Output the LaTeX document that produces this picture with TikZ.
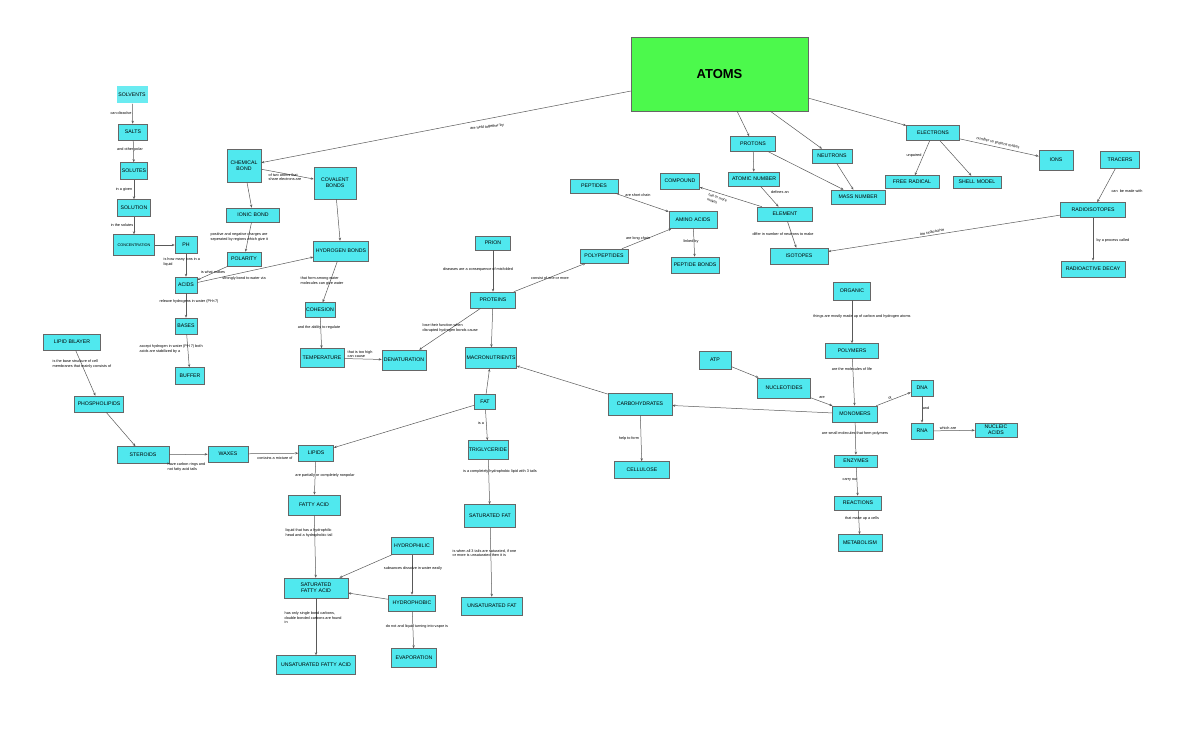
\documentclass[tikz,border=0pt]{standalone}
\usepackage{fontspec}
\setmainfont{Liberation Sans}
\usetikzlibrary{arrows.meta}
\definecolor{cy}{HTML}{50E8EE}
\definecolor{gr}{HTML}{4CF94C}
\tikzset{
 box/.style={draw=gray!80!black,fill=cy,line width=0.5pt,inner sep=0.5pt,font=\fontsize{5.2}{6}\selectfont,align=center},
 lbl/.style={font=\fontsize{3.8}{4.4}\selectfont,inner sep=0.5pt,align=left},
 ar/.style={draw=gray!70!black,line width=0.5pt,-{Stealth[length=3pt,width=2.4pt]}}
}
\newcommand\bx[6]{\node[box,minimum width=#4pt,minimum height=#5pt,text width=#4pt-2pt] (#1) at (#2,#3) {#6};}
\begin{document}
\begin{tikzpicture}[x=1pt,y=-1pt]
\useasboundingbox (0,0) rectangle (1200,733);
\node[box,fill=gr,minimum width=177pt,minimum height=74pt,font=\fontsize{13}{15}\selectfont\bfseries] (atoms) at (719.5,74) {ATOMS};
\node[box,draw=none,fill=cy!85,minimum width=31pt,minimum height=17pt,text width=29pt] (solv) at (132,95) {SOLVENTS};
\bx{salts}{133}{132}{29}{16}{SALTS}
\bx{solutes}{134}{171}{27}{17}{SOLUTES}
\bx{solution}{134}{208}{33}{17}{SOLUTION}
\node[box,minimum width=41pt,minimum height=21pt,font=\fontsize{3.8}{4.4}\selectfont] (conc) at (134,245) {CONCENTRATION};
\bx{ph}{186}{245}{22}{17}{PH}
\bx{acids}{186}{285}{22}{16}{ACIDS}
\bx{bases}{186}{326}{22}{16}{BASES}
\bx{buffer}{190}{376}{29}{17}{BUFFER}
\bx{chem}{244}{166}{34}{33}{CHEMICAL BOND}
\bx{ionic}{253}{215}{53}{14}{IONIC BOND}
\bx{polar}{244}{259}{34}{14}{POLARITY}
\bx{cov}{335}{183}{42}{32}{COVALENT BONDS}
\bx{hyd}{341}{251}{55}{20}{HYDROGEN BONDS}
\bx{coh}{320}{310}{30}{15}{COHESION}
\bx{temp}{322}{358}{44}{19}{TEMPERATURE}
\bx{denat}{404}{360}{44}{20}{DENATURATION}
\bx{bil}{72}{342}{57}{16}{LIPID BILAYER}
\bx{phos}{99}{404}{49}{16}{PHOSPHOLIPIDS}
\bx{ster}{143}{455}{52}{17}{STEROIDS}
\bx{wax}{228}{454}{40}{16}{WAXES}
\bx{lipids}{316}{453}{35}{16}{LIPIDS}
\bx{fatty}{314}{505}{52}{20}{FATTY ACID}
\bx{sfa}{316}{588}{64}{20}{SATURATED FATTY ACID}
\bx{ufa}{316}{665}{79}{19}{UNSATURATED FATTY ACID}
\bx{phil}{412}{546}{42}{17}{HYDROPHILIC}
\bx{phob}{412}{603}{47}{16}{HYDROPHOBIC}
\bx{evap}{414}{658}{45}{19}{EVAPORATION}
\bx{prion}{493}{243}{35}{14}{PRION}
\bx{prot}{493}{300}{45}{16}{PROTEINS}
\bx{macro}{491}{358}{51}{21}{MACRONUTRIENTS}
\bx{fat}{485}{402}{21}{15}{FAT}
\bx{tri}{488}{450}{40}{19}{TRIGLYCERIDE}
\bx{sfat}{490}{516}{51}{23}{SATURATED FAT}
\bx{ufat}{492}{606}{61}{18}{UNSATURATED FAT}
\bx{pep}{594}{186}{48}{14}{PEPTIDES}
\bx{poly}{604}{256}{48}{14}{POLYPEPTIDES}
\bx{amino}{693}{220}{48}{17}{AMINO ACIDS}
\bx{pbond}{695}{265}{48}{16}{PEPTIDE BONDS}
\bx{comp}{680}{181}{39}{16}{COMPOUND}
\bx{atnum}{754}{179}{51}{14}{ATOMIC NUMBER}
\bx{elem}{785}{214}{55}{14}{ELEMENT}
\bx{protons}{753}{144}{45}{15}{PROTONS}
\bx{neut}{832}{156}{40}{14}{NEUTRONS}
\bx{mass}{858}{197}{54}{14}{MASS NUMBER}
\bx{iso}{799}{256}{58}{16}{ISOTOPES}
\bx{elec}{933}{133}{53}{15}{ELECTRONS}
\bx{free}{912}{182}{54}{13}{FREE RADICAL}
\bx{shell}{977}{182}{48}{12}{SHELL MODEL}
\bx{ions}{1056}{160}{34}{20}{IONS}
\bx{trac}{1120}{160}{39}{17}{TRACERS}
\bx{radio}{1093}{210}{65}{15}{RADIOISOTOPES}
\bx{decay}{1093}{269}{64}{16}{RADIOACTIVE DECAY}
\bx{org}{852}{291}{37}{18}{ORGANIC}
\bx{polym}{852}{351}{53}{15}{POLYMERS}
\bx{atp}{715}{360}{32}{18}{ATP}
\bx{nuc}{784}{388}{53}{20}{NUCLEOTIDES}
\bx{mono}{855}{414}{45}{16}{MONOMERS}
\bx{dna}{922}{388}{22}{16}{DNA}
\bx{rna}{922}{431}{22}{16}{RNA}
\bx{nacid}{996}{430}{42}{14}{NUCLEIC ACIDS}
\bx{enz}{856}{461}{43}{12}{ENZYMES}
\bx{react}{858}{503}{47}{14}{REACTIONS}
\bx{metab}{860}{543}{44}{17}{METABOLISM}
\bx{carb}{640}{404}{64}{22}{CARBOHYDRATES}
\bx{cell}{642}{470}{55}{17}{CELLULOSE}
% connectors
\coordinate (aL) at (631,91); \coordinate (aP) at (737,111); \coordinate (aN) at (770,111); \coordinate (aE) at (808,98);
\draw[ar] (aL) -- (chem);
\draw[ar] (aP) -- (protons);
\draw[ar] (aN) -- (neut);
\draw[ar] (aE) -- (elec);
\draw[ar] (solv) -- (salts);
\draw[ar] (salts) -- (solutes);
\draw[ar] (solutes) -- (solution);
\draw[ar] (solution) -- (conc);
\draw[ar] (conc) -- (ph);
\draw[ar] (ph) -- (acids);
\draw[ar] (polar) -- (acids);
\draw[ar] (acids) -- (hyd);
\draw[ar] (acids) -- (bases);
\draw[ar] (bases) -- (buffer);
\draw[ar] (chem) -- (ionic);
\draw[ar] (chem) -- (cov);
\draw[ar] (ionic) -- (polar);
\draw[ar] (cov) -- (hyd);
\draw[ar] (hyd) -- (coh);
\draw[ar] (coh) -- (temp);
\draw[ar] (temp) -- (denat);
\draw[ar] (prion) -- (prot);
\draw[ar] (prot) -- (poly);
\draw[ar] (prot) -- (denat);
\draw[ar] (prot) -- (macro);
\draw[ar] (pep) -- (amino);
\draw[ar] (poly) -- (amino);
\draw[ar] (amino) -- (pbond);
\draw[ar] (elem) -- (comp);
\draw[ar] (atnum) -- (elem);
\draw[ar] (elem) -- (iso);
\draw[ar] (protons) -- (atnum);
\draw[ar] (protons) -- (mass);
\draw[ar] (neut) -- (mass);
\draw[ar] (elec) -- (free);
\draw[ar] (elec) -- (shell);
\draw[ar] (elec) -- (ions);
\draw[ar] (trac) -- (radio);
\draw[ar] (radio) -- (iso);
\draw[ar] (radio) -- (decay);
\draw[ar] (org) -- (polym);
\draw[ar] (polym) -- (mono);
\draw[ar] (atp) -- (nuc);
\draw[ar] (nuc) -- (mono);
\draw[ar] (mono) -- (dna);
\draw[ar] (dna) -- (rna);
\draw[ar] (rna) -- (nacid);
\draw[ar] (mono) -- (carb);
\draw[ar] (mono) -- (enz);
\draw[ar] (enz) -- (react);
\draw[ar] (react) -- (metab);
\draw[ar] (carb) -- (macro);
\draw[ar] (carb) -- (cell);
\draw[ar] (fat) -- (macro);
\draw[ar] (fat) -- (lipids);
\draw[ar] (fat) -- (tri);
\draw[ar] (tri) -- (sfat);
\draw[ar] (sfat) -- (ufat);
\draw[ar] (bil) -- (phos);
\draw[ar] (phos) -- (ster);
\draw[ar] (ster) -- (wax);
\draw[ar] (wax) -- (lipids);
\draw[ar] (lipids) -- (fatty);
\draw[ar] (fatty) -- (sfa);
\draw[ar] (phil) -- (sfa);
\draw[ar] (phil) -- (phob);
\draw[ar] (phob) -- (sfa);
\draw[ar] (sfa) -- (ufa);
\draw[ar] (phob) -- (evap);
% labels
\node[lbl,rotate=6] (l1) at (487,127) {are held together by};
\node[lbl] (l2) at (121,113) {can dissolve};
\node[lbl] (l3) at (130,150) {and other polar};
\node[lbl] (l4) at (124,190) {in a given};
\node[lbl] (l5) at (122,225) {in the solutes};
\node[lbl,anchor=west] (l6) at (163,262) {is how many ions in a\\liquid};
\node[lbl] (l7) at (213,272) {is what makes};
\node[lbl] (l8) at (244,279) {strongly bond to water via};
\node[lbl] (l9) at (189,302) {releave hydrogens in water (PH<7)};
\node[lbl,anchor=west] (l10) at (139,349) {accept hydrogen in water (PH 7) both\\acids are stabilized by a};
\node[lbl,anchor=west] (l11) at (268,177) {of two atoms that\\share electrons are};
\node[lbl,anchor=west] (l12) at (210,237) {positive and negative charges are\\seperated by regions which give it};
\node[lbl,anchor=west] (l13) at (300,281) {that form among water\\molecules can give water};
\node[lbl] (l14) at (319,328) {and the ability to regulate};
\node[lbl,anchor=west] (l15) at (347,354) {that is too high\\can cause};
\node[lbl] (l16) at (478,270) {diseases are a consequence of misfolded};
\node[lbl] (l17) at (550,278) {consist of one or more};
\node[lbl,anchor=west] (l18) at (422,328) {lose their function when\\disrupted hydrogen bonds cause};
\node[lbl] (l19) at (638,195) {are short chain};
\node[lbl] (l20) at (638,239) {are long chain};
\node[lbl] (l21) at (691,242) {linked by};
\node[lbl,rotate=-18,font=\fontsize{3.6}{5}\selectfont] (l22) at (717,200) {two or more\\makes};
\node[lbl] (l23) at (780,192) {defines an};
\node[lbl] (l24) at (783,234) {differ in number of neutrons to make};
\node[lbl] (l25) at (914,156) {unpaired};
\node[lbl,rotate=-12] (l26) at (998,143) {number vs protons makes};
\node[lbl] (l27) at (1127,191) {can\ \ be made with};
\node[lbl,rotate=11] (l28) at (932,232) {are radioactive};
\node[lbl] (l29) at (1113,241) {by a process called};
\node[lbl] (l30) at (862,317) {things are mostly made up of carbon and hydrogen atoms};
\node[lbl] (l31) at (852,369) {are the molecules of life};
\node[lbl] (l32) at (822,397) {are};
\node[lbl,rotate=20] (l33) at (890,398) {of};
\node[lbl] (l34) at (926,408) {and};
\node[lbl] (l35) at (948,428) {which are};
\node[lbl] (l36) at (855,434) {are small molecules that form polymers};
\node[lbl] (l37) at (850,480) {carry out};
\node[lbl] (l38) at (862,519) {that make up a cells};
\node[lbl] (l39) at (629,439) {help to form};
\node[lbl] (l40) at (481,423) {is a};
\node[lbl] (l41) at (500,472) {is a completely hydrophobic lipid with 3 tails};
\node[lbl,anchor=west] (l42) at (452,553) {is when all 3 tails are saturated, if one\\or more is unsaturated then it is};
\node[lbl,anchor=west] (l43) at (52,364) {is the base structure of cell\\membranes that mainly consists of};
\node[lbl,anchor=west] (l44) at (167,467) {have carbon rings and\\not fatty acid tails};
\node[lbl] (l45) at (275,458) {contains a mixture of};
\node[lbl] (l46) at (325,476) {are partially or completely nonpolar};
\node[lbl,anchor=west] (l47) at (285,533) {liquid that has a hydrophilic\\head and a hydrophobic tail};
\node[lbl] (l48) at (413,569) {subsances dissolve in water easily};
\node[lbl,anchor=west] (l49) at (284,618) {has only single bond carbons,\\double bonded carbons are found\\in};
\node[lbl] (l50) at (417,627) {do not and liquid turning into vapor is};
\end{tikzpicture}
\end{document}
